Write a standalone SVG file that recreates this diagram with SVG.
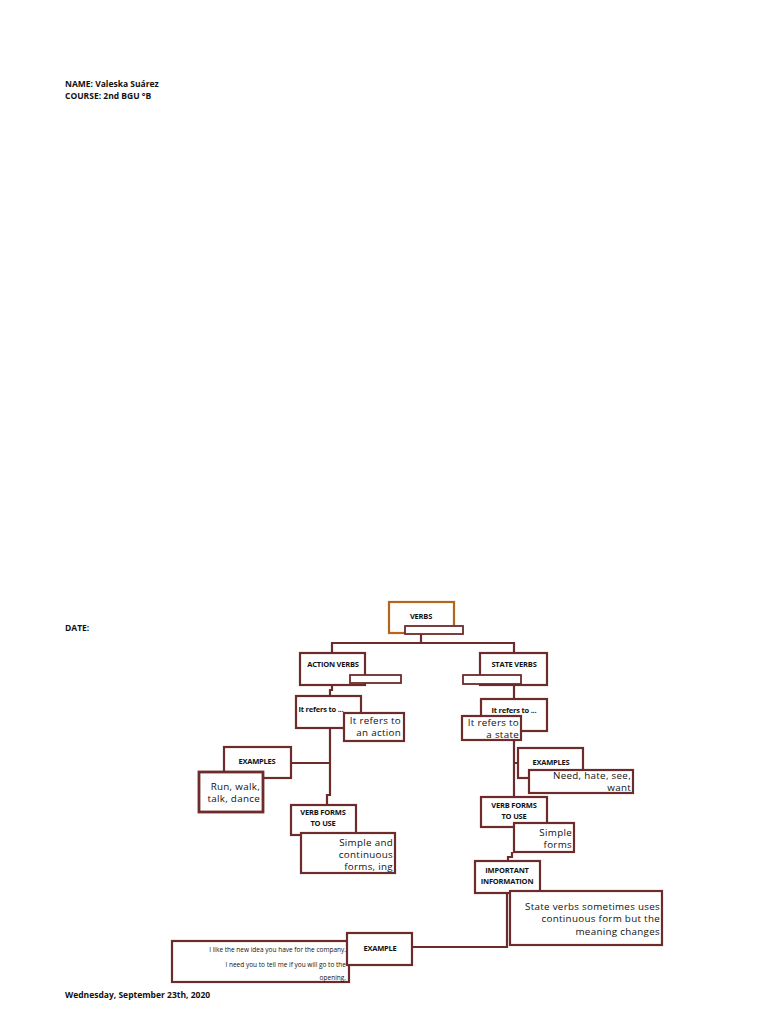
<svg xmlns="http://www.w3.org/2000/svg" width="768" height="1024" viewBox="0 0 768 1024">
<style>
.bx{fill:#fff;stroke:#6e2b2b;stroke-width:2.2}
.bxt{fill:#fff;stroke:#6e2b2b;stroke-width:2.8}
.sub{fill:#fff;stroke:#6e2b2b;stroke-width:1.8}
.ln{fill:none;stroke:#6e2b2b;stroke-width:2.2}
.h{font-family:"Open Sans","Liberation Sans",sans-serif;font-weight:bold;font-size:8.5px;fill:#111}
.b{font-family:"Open Sans","Liberation Sans",sans-serif;font-weight:bold;font-size:7.5px;fill:#111;text-anchor:middle;letter-spacing:-0.2px}
.t{font-family:"Open Sans","Liberation Sans",sans-serif;font-size:9.8px;fill:#111;text-anchor:end;letter-spacing:0.3px}
.s{font-family:"Open Sans","Liberation Sans",sans-serif;font-size:6.5px;fill:#111;text-anchor:end}
</style>
<rect width="768" height="1024" fill="#fff"/>
<text class="h" x="65" y="87">NAME: Valeska Suárez</text>
<text class="h" x="65" y="99">COURSE: 2nd BGU °B</text>
<text class="h" x="65" y="631">DATE:</text>
<text class="h" x="65" y="998">Wednesday, September 23th, 2020</text>

<g id="connectors">
<path class="ln" d="M421,634 V643 M332,654 V643 H514 V654"/>
<path class="ln" d="M332,685 V690 H330 V696"/>
<path class="ln" d="M514,685 V699"/>
<path class="ln" d="M330,728 V795 H327 V805 M292,763 H330"/>
<path class="ln" d="M514,740 V797 M514,763 H518"/>
<path class="ln" d="M512,852 V857 H508 V861"/>
<path class="ln" d="M507,893 V947 H412"/>
</g>

<g id="verbs"><rect x="389" y="602" width="65" height="31" fill="#fff" stroke="#b5651d" stroke-width="2.2"/><text class="b" x="421" y="619">VERBS</text><rect class="sub" x="405" y="626" width="58" height="8"/></g>
<g id="action-verbs"><rect class="bx" x="300" y="653" width="65" height="32"/><text class="b" x="333" y="667">ACTION VERBS</text><rect class="sub" x="350" y="675" width="51" height="8"/></g>
<g id="state-verbs"><rect class="bx" x="480" y="653" width="67" height="32"/><text class="b" x="514" y="667">STATE VERBS</text><rect class="sub" x="463" y="675" width="58" height="9"/></g>

<g id="refers-left"><rect class="bx" x="296" y="696" width="65" height="32"/><text class="b" x="321" y="712">It refers to ...</text></g>
<g id="refers-action"><rect class="bx" x="344" y="713" width="60" height="28"/><text class="t" x="401" y="724">It refers to</text><text class="t" x="401" y="736">an action</text></g>
<g id="refers-right"><rect class="bx" x="481" y="699" width="66" height="32"/><text class="b" x="514" y="713">It refers to ...</text></g>
<g id="refers-state"><rect class="bx" x="462" y="716" width="59" height="24"/><text class="t" x="519" y="726">It refers to</text><text class="t" x="519" y="738">a state</text></g>

<g id="examples-left"><rect class="bx" x="224" y="747" width="67" height="31"/><text class="b" x="257" y="764">EXAMPLES</text></g>
<g id="run-walk"><rect class="bxt" x="199" y="772" width="64" height="40"/><text class="t" x="260" y="790">Run, walk,</text><text class="t" x="260" y="802">talk, dance</text></g>
<g id="examples-right"><rect class="bx" x="518" y="748" width="65" height="30"/><text class="b" x="551" y="765">EXAMPLES</text></g>
<g id="need-hate"><rect class="bx" x="529" y="770" width="104" height="23"/><text class="t" x="631" y="779">Need, hate, see,</text><text class="t" x="631" y="791">want</text></g>

<g id="verb-forms-left"><rect class="bx" x="291" y="805" width="65" height="30"/><text class="b" x="323" y="815">VERB FORMS</text><text class="b" x="323" y="826">TO USE</text></g>
<g id="simple-continuous"><rect class="bx" x="301" y="833" width="94" height="40"/><text class="t" x="393" y="846">Simple and</text><text class="t" x="393" y="858">continuous</text><text class="t" x="393" y="870">forms, ing</text></g>
<g id="verb-forms-right"><rect class="bx" x="481" y="797" width="66" height="30"/><text class="b" x="514" y="808">VERB FORMS</text><text class="b" x="514" y="819">TO USE</text></g>
<g id="simple-forms"><rect class="bx" x="514" y="823" width="60" height="29"/><text class="t" x="572" y="836">Simple</text><text class="t" x="572" y="848">forms</text></g>

<g id="important"><rect class="bx" x="475" y="861" width="65" height="32"/><text class="b" x="507" y="873">IMPORTANT</text><text class="b" x="507" y="884">INFORMATION</text></g>
<g id="state-note"><rect class="bx" x="510" y="891" width="152" height="54"/><text class="t" x="660" y="910">State verbs sometimes uses</text><text class="t" x="660" y="922">continuous form but the</text><text class="t" x="660" y="935">meaning changes</text></g>

<g id="example-sentence"><rect class="bx" x="172" y="941" width="177" height="41"/><text class="s" x="346" y="952">I like the new idea you have for the company.</text><text class="s" x="346" y="967">I need you to tell me if you will go to the</text><text class="s" x="346" y="980">opening.</text></g>
<g id="example"><rect class="bx" x="347" y="933" width="65" height="32"/><text class="b" x="380" y="951">EXAMPLE</text></g>
</svg>
